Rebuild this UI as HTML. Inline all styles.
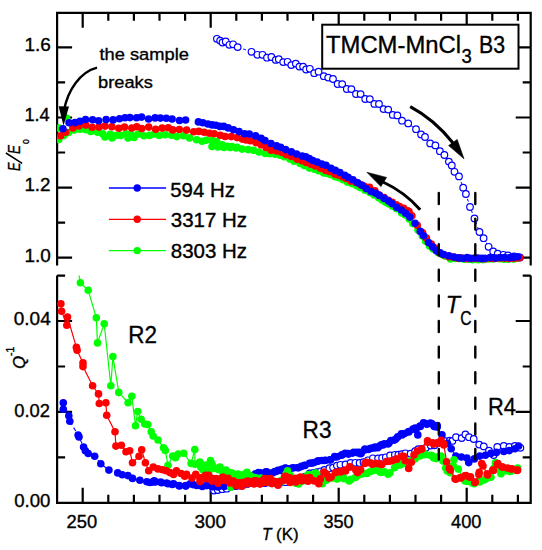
<!DOCTYPE html><html><head><meta charset="utf-8"><style>html,body{margin:0;padding:0;background:#fff;width:542px;height:550px;overflow:hidden}svg{display:block}text{font-family:"Liberation Sans",sans-serif;fill:#000;stroke:#000;stroke-width:0.35px}</style></head><body>
<svg width="542" height="550" viewBox="0 0 542 550">
<defs><clipPath id="c1"><rect x="57.1" y="12.8" width="473.6" height="252.8"/></clipPath><clipPath id="c2"><rect x="57.1" y="275.4" width="473.6" height="227.40000000000003"/></clipPath></defs>
<rect width="542" height="550" fill="#fff"/>
<path d="M57.1,265.6 V11.7 M56.0,12.8 H531.8 M530.7,11.7 V265.6 M57.1,275.4 V503.9 M56.0,502.8 H531.8 M530.7,275.4 V503.9 M82.7,12.8 v15.0 M82.7,502.8 v-15.0 M108.3,12.8 v8.0 M108.3,502.8 v-8.0 M133.9,12.8 v8.0 M133.9,502.8 v-8.0 M159.5,12.8 v8.0 M159.5,502.8 v-8.0 M185.1,12.8 v8.0 M185.1,502.8 v-8.0 M210.7,12.8 v15.0 M210.7,502.8 v-15.0 M236.3,12.8 v8.0 M236.3,502.8 v-8.0 M261.9,12.8 v8.0 M261.9,502.8 v-8.0 M287.5,12.8 v8.0 M287.5,502.8 v-8.0 M313.1,12.8 v8.0 M313.1,502.8 v-8.0 M338.7,12.8 v15.0 M338.7,502.8 v-15.0 M364.3,12.8 v8.0 M364.3,502.8 v-8.0 M389.9,12.8 v8.0 M389.9,502.8 v-8.0 M415.5,12.8 v8.0 M415.5,502.8 v-8.0 M441.1,12.8 v8.0 M441.1,502.8 v-8.0 M466.7,12.8 v15.0 M466.7,502.8 v-15.0 M492.3,12.8 v8.0 M492.3,502.8 v-8.0 M517.9,12.8 v8.0 M517.9,502.8 v-8.0 M57.1,222.6 h8.0 M530.7,222.6 h-8.0 M57.1,187.6 h15.0 M530.7,187.6 h-15.0 M57.1,152.5 h8.0 M530.7,152.5 h-8.0 M57.1,117.5 h15.0 M530.7,117.5 h-15.0 M57.1,82.4 h8.0 M530.7,82.4 h-8.0 M57.1,47.4 h15.0 M530.7,47.4 h-15.0 M57.1,257.7 h15.0 M530.7,257.7 h-15.0 M57.1,457.4 h8.0 M530.7,457.4 h-8.0 M57.1,411.9 h15.0 M530.7,411.9 h-15.0 M57.1,366.5 h8.0 M530.7,366.5 h-8.0 M57.1,321.0 h15.0 M530.7,321.0 h-15.0 M57.1,275.6 h8.0 M530.7,275.6 h-8.0" fill="none" stroke="#000" stroke-width="2.2"/>
<polyline points="216.9,38.8 220.1,40.6 222.5,42.5 225.7,41.5 229.4,44.8 233.1,44.3 237.7,47.1 251.5,51.8 257.4,54.8 262.5,54.8 267.0,57.7 271.4,57.0 275.8,59.9 278.8,59.2 283.2,62.1 287.6,61.8 291.3,65.1 295.8,63.6 299.4,66.6 303.1,66.6 306.1,69.5 309.8,68.8 314.2,73.2 318.6,71.7 323.8,76.2 328.2,77.6 333.0,79.0 337.6,84.0 342.2,84.1 346.8,89.0 351.4,89.1 356.0,94.0 360.6,94.1 365.2,99.0 369.8,99.1 374.4,103.9 379.0,104.0 383.6,109.1 388.2,109.6 392.8,114.9 397.4,115.4 402.0,120.7 408.2,123.4 416.0,129.2 421.1,134.4 425.0,137.0 430.2,143.4 435.4,145.4 439.9,151.2 444.4,155.0 448.9,161.6 451.8,165.5 454.5,171.8 459.0,176.4 463.2,187.7 465.9,194.0 470.0,207.0 474.5,218.4 479.5,232.0 483.6,238.2 488.6,246.8 493.2,251.4 497.7,253.6 503.4,254.8 508.0,255.5 514.0,256.5 520.0,257.5" fill="none" stroke="#0000ff" stroke-width="1.0" stroke-dasharray="3 3" clip-path="url(#c1)"/>
<g fill="#fff" stroke="#0000ff" stroke-width="1.2" clip-path="url(#c1)">
<circle cx="216.9" cy="38.8" r="3.3"/>
<circle cx="220.1" cy="40.6" r="3.3"/>
<circle cx="222.5" cy="42.5" r="3.3"/>
<circle cx="225.7" cy="41.5" r="3.3"/>
<circle cx="229.4" cy="44.8" r="3.3"/>
<circle cx="233.1" cy="44.3" r="3.3"/>
<circle cx="237.7" cy="47.1" r="3.3"/>
<circle cx="251.5" cy="51.8" r="3.3"/>
<circle cx="257.4" cy="54.8" r="3.3"/>
<circle cx="262.5" cy="54.8" r="3.3"/>
<circle cx="267.0" cy="57.7" r="3.3"/>
<circle cx="271.4" cy="57.0" r="3.3"/>
<circle cx="275.8" cy="59.9" r="3.3"/>
<circle cx="278.8" cy="59.2" r="3.3"/>
<circle cx="283.2" cy="62.1" r="3.3"/>
<circle cx="287.6" cy="61.8" r="3.3"/>
<circle cx="291.3" cy="65.1" r="3.3"/>
<circle cx="295.8" cy="63.6" r="3.3"/>
<circle cx="299.4" cy="66.6" r="3.3"/>
<circle cx="303.1" cy="66.6" r="3.3"/>
<circle cx="306.1" cy="69.5" r="3.3"/>
<circle cx="309.8" cy="68.8" r="3.3"/>
<circle cx="314.2" cy="73.2" r="3.3"/>
<circle cx="318.6" cy="71.7" r="3.3"/>
<circle cx="323.8" cy="76.2" r="3.3"/>
<circle cx="328.2" cy="77.6" r="3.3"/>
<circle cx="333.0" cy="79.0" r="3.3"/>
<circle cx="337.6" cy="84.0" r="3.3"/>
<circle cx="342.2" cy="84.1" r="3.3"/>
<circle cx="346.8" cy="89.0" r="3.3"/>
<circle cx="351.4" cy="89.1" r="3.3"/>
<circle cx="356.0" cy="94.0" r="3.3"/>
<circle cx="360.6" cy="94.1" r="3.3"/>
<circle cx="365.2" cy="99.0" r="3.3"/>
<circle cx="369.8" cy="99.1" r="3.3"/>
<circle cx="374.4" cy="103.9" r="3.3"/>
<circle cx="379.0" cy="104.0" r="3.3"/>
<circle cx="383.6" cy="109.1" r="3.3"/>
<circle cx="388.2" cy="109.6" r="3.3"/>
<circle cx="392.8" cy="114.9" r="3.3"/>
<circle cx="397.4" cy="115.4" r="3.3"/>
<circle cx="402.0" cy="120.7" r="3.3"/>
<circle cx="408.2" cy="123.4" r="3.3"/>
<circle cx="416.0" cy="129.2" r="3.3"/>
<circle cx="421.1" cy="134.4" r="3.3"/>
<circle cx="425.0" cy="137.0" r="3.3"/>
<circle cx="430.2" cy="143.4" r="3.3"/>
<circle cx="435.4" cy="145.4" r="3.3"/>
<circle cx="439.9" cy="151.2" r="3.3"/>
<circle cx="444.4" cy="155.0" r="3.3"/>
<circle cx="448.9" cy="161.6" r="3.3"/>
<circle cx="451.8" cy="165.5" r="3.3"/>
<circle cx="454.5" cy="171.8" r="3.3"/>
<circle cx="459.0" cy="176.4" r="3.3"/>
<circle cx="463.2" cy="187.7" r="3.3"/>
<circle cx="465.9" cy="194.0" r="3.3"/>
<circle cx="470.0" cy="207.0" r="3.3"/>
<circle cx="474.5" cy="218.4" r="3.3"/>
<circle cx="479.5" cy="232.0" r="3.3"/>
<circle cx="483.6" cy="238.2" r="3.3"/>
<circle cx="488.6" cy="246.8" r="3.3"/>
<circle cx="493.2" cy="251.4" r="3.3"/>
<circle cx="497.7" cy="253.6" r="3.3"/>
<circle cx="503.4" cy="254.8" r="3.3"/>
<circle cx="508.0" cy="255.5" r="3.3"/>
<circle cx="514.0" cy="256.5" r="3.3"/>
<circle cx="520.0" cy="257.5" r="3.3"/>
</g>
<g fill="#00ff00" clip-path="url(#c1)">
<circle cx="58.8" cy="139.5" r="3.8"/>
<circle cx="63.8" cy="135.6" r="3.8"/>
<circle cx="68.5" cy="132.5" r="3.8"/>
<circle cx="74.1" cy="130.1" r="3.8"/>
<circle cx="80.1" cy="129.3" r="3.8"/>
<circle cx="85.9" cy="129.7" r="3.8"/>
<circle cx="90.7" cy="131.4" r="3.8"/>
<circle cx="97.6" cy="132.2" r="3.8"/>
<circle cx="102.8" cy="133.9" r="3.8"/>
<circle cx="110.2" cy="134.2" r="3.8"/>
<circle cx="115.8" cy="135.5" r="3.8"/>
<circle cx="120.5" cy="135.4" r="3.8"/>
<circle cx="125.9" cy="133.7" r="3.8"/>
<circle cx="130.7" cy="134.4" r="3.8"/>
<circle cx="137.7" cy="134.3" r="3.8"/>
<circle cx="143.9" cy="135.7" r="3.8"/>
<circle cx="149.5" cy="135.4" r="3.8"/>
<circle cx="154.2" cy="134.0" r="3.8"/>
<circle cx="159.3" cy="135.5" r="3.8"/>
<circle cx="165.1" cy="134.7" r="3.8"/>
<circle cx="171.4" cy="135.3" r="3.8"/>
<circle cx="176.8" cy="136.6" r="3.8"/>
<circle cx="183.4" cy="135.8" r="3.8"/>
<circle cx="189.6" cy="137.9" r="3.8"/>
<circle cx="196.7" cy="139.8" r="3.8"/>
<circle cx="202.1" cy="141.2" r="3.8"/>
<circle cx="206.1" cy="140.3" r="3.8"/>
<circle cx="211.8" cy="140.5" r="3.8"/>
<circle cx="216.7" cy="141.5" r="3.8"/>
<circle cx="222.2" cy="144.7" r="3.8"/>
<circle cx="227.3" cy="146.2" r="3.8"/>
<circle cx="231.9" cy="146.5" r="3.8"/>
<circle cx="237.1" cy="147.2" r="3.8"/>
<circle cx="242.0" cy="149.1" r="3.8"/>
<circle cx="248.1" cy="149.6" r="3.8"/>
<circle cx="253.5" cy="150.3" r="3.8"/>
<circle cx="259.0" cy="152.0" r="3.8"/>
<circle cx="265.3" cy="153.4" r="3.8"/>
<circle cx="269.7" cy="153.8" r="3.8"/>
<circle cx="275.1" cy="154.3" r="3.8"/>
<circle cx="280.0" cy="155.2" r="3.8"/>
<circle cx="284.1" cy="156.7" r="3.8"/>
<circle cx="289.8" cy="159.1" r="3.8"/>
<circle cx="294.1" cy="161.2" r="3.8"/>
<circle cx="300.1" cy="163.4" r="3.8"/>
<circle cx="304.2" cy="165.6" r="3.8"/>
<circle cx="309.4" cy="168.1" r="3.8"/>
<circle cx="314.5" cy="169.2" r="3.8"/>
<circle cx="318.6" cy="170.7" r="3.8"/>
<circle cx="323.7" cy="173.0" r="3.8"/>
<circle cx="327.2" cy="173.4" r="3.8"/>
<circle cx="331.0" cy="174.7" r="3.8"/>
<circle cx="335.2" cy="176.8" r="3.8"/>
<circle cx="339.0" cy="177.8" r="3.8"/>
<circle cx="343.2" cy="179.8" r="3.8"/>
<circle cx="347.6" cy="182.2" r="3.8"/>
<circle cx="352.3" cy="183.7" r="3.8"/>
<circle cx="356.9" cy="185.7" r="3.8"/>
<circle cx="360.2" cy="187.6" r="3.8"/>
<circle cx="365.1" cy="190.3" r="3.8"/>
<circle cx="370.0" cy="192.6" r="3.8"/>
<circle cx="374.1" cy="194.9" r="3.8"/>
<circle cx="378.7" cy="197.7" r="3.8"/>
<circle cx="382.1" cy="199.9" r="3.8"/>
<circle cx="385.7" cy="202.2" r="3.8"/>
<circle cx="389.0" cy="203.9" r="3.8"/>
<circle cx="392.5" cy="206.2" r="3.8"/>
<circle cx="396.6" cy="208.8" r="3.8"/>
<circle cx="401.7" cy="212.9" r="3.8"/>
<circle cx="405.2" cy="215.0" r="3.8"/>
<circle cx="409.2" cy="219.0" r="3.8"/>
<circle cx="412.7" cy="223.6" r="3.8"/>
<circle cx="418.0" cy="230.0" r="3.8"/>
<circle cx="422.3" cy="236.0" r="3.8"/>
<circle cx="425.7" cy="241.2" r="3.8"/>
<circle cx="429.5" cy="245.9" r="3.8"/>
<circle cx="433.1" cy="249.0" r="3.8"/>
<circle cx="438.4" cy="252.7" r="3.8"/>
<circle cx="441.9" cy="254.5" r="3.8"/>
<circle cx="445.2" cy="256.1" r="3.8"/>
<circle cx="450.5" cy="258.9" r="3.8"/>
<circle cx="455.2" cy="258.5" r="3.8"/>
<circle cx="459.3" cy="258.6" r="3.8"/>
<circle cx="464.1" cy="259.2" r="3.8"/>
<circle cx="469.0" cy="259.3" r="3.8"/>
<circle cx="472.7" cy="259.8" r="3.8"/>
<circle cx="478.1" cy="259.7" r="3.8"/>
<circle cx="483.0" cy="259.6" r="3.8"/>
<circle cx="487.9" cy="258.9" r="3.8"/>
<circle cx="492.2" cy="258.9" r="3.8"/>
<circle cx="495.5" cy="258.5" r="3.8"/>
<circle cx="499.3" cy="258.7" r="3.8"/>
<circle cx="504.0" cy="259.3" r="3.8"/>
<circle cx="508.2" cy="259.2" r="3.8"/>
<circle cx="513.6" cy="259.1" r="3.8"/>
<circle cx="517.6" cy="258.3" r="3.8"/>
<circle cx="59.0" cy="128.0" r="3.8"/>
<circle cx="66.5" cy="118.0" r="3.8"/>
<circle cx="212.0" cy="146.5" r="3.8"/>
<circle cx="218.0" cy="147.0" r="3.8"/>
<circle cx="224.0" cy="147.5" r="3.8"/>
<circle cx="230.0" cy="147.5" r="3.8"/>
<circle cx="236.0" cy="148.0" r="3.8"/>
<circle cx="105.0" cy="137.0" r="3.8"/>
<circle cx="112.0" cy="138.0" r="3.8"/>
<circle cx="128.0" cy="138.0" r="3.8"/>
<circle cx="134.0" cy="137.5" r="3.8"/>
</g>
<g fill="#ff0000" clip-path="url(#c1)">
<circle cx="60.6" cy="135.7" r="3.8"/>
<circle cx="65.7" cy="132.3" r="3.8"/>
<circle cx="72.9" cy="127.9" r="3.8"/>
<circle cx="78.9" cy="126.0" r="3.8"/>
<circle cx="85.8" cy="125.1" r="3.8"/>
<circle cx="92.2" cy="127.2" r="3.8"/>
<circle cx="99.1" cy="127.1" r="3.8"/>
<circle cx="105.0" cy="126.1" r="3.8"/>
<circle cx="111.9" cy="126.7" r="3.8"/>
<circle cx="118.8" cy="128.2" r="3.8"/>
<circle cx="124.5" cy="127.1" r="3.8"/>
<circle cx="131.8" cy="128.0" r="3.8"/>
<circle cx="136.8" cy="126.7" r="3.8"/>
<circle cx="141.8" cy="128.6" r="3.8"/>
<circle cx="148.7" cy="127.1" r="3.8"/>
<circle cx="155.7" cy="129.2" r="3.8"/>
<circle cx="162.1" cy="128.1" r="3.8"/>
<circle cx="168.3" cy="127.8" r="3.8"/>
<circle cx="172.8" cy="129.9" r="3.8"/>
<circle cx="179.3" cy="129.5" r="3.8"/>
<circle cx="186.6" cy="130.1" r="3.8"/>
<circle cx="193.7" cy="131.8" r="3.8"/>
<circle cx="198.8" cy="131.4" r="3.8"/>
<circle cx="204.2" cy="132.3" r="3.8"/>
<circle cx="209.4" cy="133.2" r="3.8"/>
<circle cx="214.2" cy="133.7" r="3.8"/>
<circle cx="220.3" cy="135.2" r="3.8"/>
<circle cx="225.1" cy="136.5" r="3.8"/>
<circle cx="231.2" cy="136.6" r="3.8"/>
<circle cx="237.2" cy="137.6" r="3.8"/>
<circle cx="242.3" cy="139.1" r="3.8"/>
<circle cx="246.1" cy="140.0" r="3.8"/>
<circle cx="250.3" cy="140.8" r="3.8"/>
<circle cx="256.0" cy="142.6" r="3.8"/>
<circle cx="261.0" cy="144.8" r="3.8"/>
<circle cx="266.1" cy="147.5" r="3.8"/>
<circle cx="271.2" cy="150.3" r="3.8"/>
<circle cx="276.9" cy="151.0" r="3.8"/>
<circle cx="282.0" cy="152.5" r="3.8"/>
<circle cx="286.5" cy="154.7" r="3.8"/>
<circle cx="291.5" cy="156.5" r="3.8"/>
<circle cx="297.1" cy="159.1" r="3.8"/>
<circle cx="302.0" cy="160.8" r="3.8"/>
<circle cx="306.3" cy="162.5" r="3.8"/>
<circle cx="311.0" cy="164.3" r="3.8"/>
<circle cx="315.4" cy="166.0" r="3.8"/>
<circle cx="320.6" cy="168.2" r="3.8"/>
<circle cx="325.7" cy="170.4" r="3.8"/>
<circle cx="329.5" cy="171.5" r="3.8"/>
<circle cx="334.8" cy="174.1" r="3.8"/>
<circle cx="338.3" cy="174.9" r="3.8"/>
<circle cx="342.5" cy="176.7" r="3.8"/>
<circle cx="346.2" cy="178.4" r="3.8"/>
<circle cx="350.9" cy="181.1" r="3.8"/>
<circle cx="356.0" cy="182.4" r="3.8"/>
<circle cx="360.8" cy="184.7" r="3.8"/>
<circle cx="364.3" cy="186.2" r="3.8"/>
<circle cx="369.6" cy="187.4" r="3.8"/>
<circle cx="374.9" cy="190.8" r="3.8"/>
<circle cx="379.2" cy="195.0" r="3.8"/>
<circle cx="384.2" cy="197.5" r="3.8"/>
<circle cx="388.3" cy="200.3" r="3.8"/>
<circle cx="392.3" cy="202.2" r="3.8"/>
<circle cx="396.2" cy="204.9" r="3.8"/>
<circle cx="399.5" cy="206.5" r="3.8"/>
<circle cx="403.7" cy="208.2" r="3.8"/>
<circle cx="407.6" cy="210.9" r="3.8"/>
<circle cx="411.9" cy="215.8" r="3.8"/>
<circle cx="417.3" cy="225.2" r="3.8"/>
<circle cx="422.6" cy="232.8" r="3.8"/>
<circle cx="426.4" cy="238.1" r="3.8"/>
<circle cx="431.3" cy="244.1" r="3.8"/>
<circle cx="434.8" cy="248.1" r="3.8"/>
<circle cx="440.0" cy="253.0" r="3.8"/>
<circle cx="443.7" cy="254.7" r="3.8"/>
<circle cx="448.9" cy="256.7" r="3.8"/>
<circle cx="453.7" cy="257.0" r="3.8"/>
<circle cx="457.0" cy="257.9" r="3.8"/>
<circle cx="461.2" cy="257.7" r="3.8"/>
<circle cx="466.4" cy="258.8" r="3.8"/>
<circle cx="471.3" cy="258.6" r="3.8"/>
<circle cx="476.4" cy="258.4" r="3.8"/>
<circle cx="481.5" cy="258.7" r="3.8"/>
<circle cx="485.4" cy="258.7" r="3.8"/>
<circle cx="490.7" cy="258.3" r="3.8"/>
<circle cx="494.2" cy="258.5" r="3.8"/>
<circle cx="497.9" cy="258.0" r="3.8"/>
<circle cx="501.5" cy="257.9" r="3.8"/>
<circle cx="505.1" cy="258.1" r="3.8"/>
<circle cx="509.0" cy="258.5" r="3.8"/>
<circle cx="512.9" cy="258.1" r="3.8"/>
<circle cx="516.5" cy="257.9" r="3.8"/>
<circle cx="519.7" cy="257.8" r="3.8"/>
<circle cx="409.0" cy="211.5" r="3.8"/>
</g>
<g fill="#0000ff" clip-path="url(#c1)">
<circle cx="62.9" cy="128.7" r="3.8"/>
<circle cx="69.1" cy="122.7" r="3.8"/>
<circle cx="75.0" cy="122.6" r="3.8"/>
<circle cx="79.8" cy="121.3" r="3.8"/>
<circle cx="85.6" cy="119.5" r="3.8"/>
<circle cx="92.6" cy="119.7" r="3.8"/>
<circle cx="98.6" cy="120.7" r="3.8"/>
<circle cx="106.1" cy="119.5" r="3.8"/>
<circle cx="113.1" cy="119.9" r="3.8"/>
<circle cx="119.5" cy="118.8" r="3.8"/>
<circle cx="125.0" cy="117.8" r="3.8"/>
<circle cx="129.9" cy="117.6" r="3.8"/>
<circle cx="136.6" cy="117.7" r="3.8"/>
<circle cx="141.6" cy="117.1" r="3.8"/>
<circle cx="148.6" cy="119.0" r="3.8"/>
<circle cx="155.1" cy="117.9" r="3.8"/>
<circle cx="160.4" cy="118.1" r="3.8"/>
<circle cx="166.3" cy="118.3" r="3.8"/>
<circle cx="172.1" cy="119.0" r="3.8"/>
<circle cx="179.5" cy="120.5" r="3.8"/>
<circle cx="185.6" cy="120.0" r="3.8"/>
<circle cx="198.4" cy="121.9" r="3.8"/>
<circle cx="202.9" cy="122.7" r="3.8"/>
<circle cx="207.9" cy="124.0" r="3.8"/>
<circle cx="212.1" cy="124.9" r="3.8"/>
<circle cx="215.9" cy="125.2" r="3.8"/>
<circle cx="219.9" cy="126.4" r="3.8"/>
<circle cx="223.7" cy="126.4" r="3.8"/>
<circle cx="228.2" cy="127.9" r="3.8"/>
<circle cx="233.5" cy="129.7" r="3.8"/>
<circle cx="239.1" cy="131.6" r="3.8"/>
<circle cx="244.6" cy="133.8" r="3.8"/>
<circle cx="249.3" cy="134.0" r="3.8"/>
<circle cx="255.6" cy="135.9" r="3.8"/>
<circle cx="261.1" cy="138.3" r="3.8"/>
<circle cx="265.0" cy="140.6" r="3.8"/>
<circle cx="271.0" cy="143.5" r="3.8"/>
<circle cx="276.5" cy="145.9" r="3.8"/>
<circle cx="280.6" cy="147.3" r="3.8"/>
<circle cx="285.6" cy="149.6" r="3.8"/>
<circle cx="291.4" cy="151.9" r="3.8"/>
<circle cx="296.6" cy="154.0" r="3.8"/>
<circle cx="302.1" cy="156.0" r="3.8"/>
<circle cx="305.8" cy="156.8" r="3.8"/>
<circle cx="309.3" cy="158.6" r="3.8"/>
<circle cx="312.8" cy="160.5" r="3.8"/>
<circle cx="317.2" cy="162.1" r="3.8"/>
<circle cx="321.8" cy="164.1" r="3.8"/>
<circle cx="326.0" cy="165.2" r="3.8"/>
<circle cx="331.0" cy="168.2" r="3.8"/>
<circle cx="335.3" cy="170.4" r="3.8"/>
<circle cx="339.9" cy="172.5" r="3.8"/>
<circle cx="344.7" cy="175.3" r="3.8"/>
<circle cx="348.1" cy="177.2" r="3.8"/>
<circle cx="352.9" cy="179.7" r="3.8"/>
<circle cx="357.7" cy="182.8" r="3.8"/>
<circle cx="362.0" cy="185.3" r="3.8"/>
<circle cx="366.3" cy="188.6" r="3.8"/>
<circle cx="371.1" cy="191.5" r="3.8"/>
<circle cx="375.7" cy="193.3" r="3.8"/>
<circle cx="379.3" cy="195.4" r="3.8"/>
<circle cx="384.1" cy="198.4" r="3.8"/>
<circle cx="388.6" cy="201.1" r="3.8"/>
<circle cx="391.9" cy="203.6" r="3.8"/>
<circle cx="396.6" cy="207.2" r="3.8"/>
<circle cx="401.3" cy="210.0" r="3.8"/>
<circle cx="405.6" cy="213.2" r="3.8"/>
<circle cx="409.8" cy="217.1" r="3.8"/>
<circle cx="415.0" cy="223.3" r="3.8"/>
<circle cx="420.3" cy="231.4" r="3.8"/>
<circle cx="423.6" cy="235.8" r="3.8"/>
<circle cx="428.5" cy="242.6" r="3.8"/>
<circle cx="432.7" cy="246.9" r="3.8"/>
<circle cx="436.4" cy="250.7" r="3.8"/>
<circle cx="440.1" cy="252.8" r="3.8"/>
<circle cx="443.6" cy="254.5" r="3.8"/>
<circle cx="448.9" cy="255.8" r="3.8"/>
<circle cx="453.9" cy="257.0" r="3.8"/>
<circle cx="459.0" cy="257.9" r="3.8"/>
<circle cx="462.7" cy="258.3" r="3.8"/>
<circle cx="467.0" cy="257.6" r="3.8"/>
<circle cx="470.2" cy="258.2" r="3.8"/>
<circle cx="474.4" cy="258.0" r="3.8"/>
<circle cx="478.0" cy="258.0" r="3.8"/>
<circle cx="481.9" cy="258.4" r="3.8"/>
<circle cx="485.1" cy="258.3" r="3.8"/>
<circle cx="490.1" cy="257.6" r="3.8"/>
<circle cx="495.3" cy="258.1" r="3.8"/>
<circle cx="500.5" cy="257.5" r="3.8"/>
<circle cx="504.5" cy="257.5" r="3.8"/>
<circle cx="509.9" cy="257.6" r="3.8"/>
<circle cx="513.9" cy="257.3" r="3.8"/>
<circle cx="517.7" cy="256.7" r="3.8"/>
</g>
<polyline points="214.0,490.6 217.8,490.0 222.2,489.2 226.7,488.7 230.8,486.7 235.2,486.2 238.9,485.7 243.7,484.4 247.2,483.9 250.6,482.9 254.6,482.6 258.7,483.1 261.9,483.1 265.2,483.1 270.0,482.5 273.3,482.3 277.2,482.9 280.7,482.6 285.9,482.2 290.8,480.3 296.0,479.3 301.1,478.3 304.6,476.8 309.7,473.5 313.6,472.8 317.1,472.2 320.8,471.3 324.3,469.9 329.4,468.2 333.1,467.6 336.9,465.6 340.4,464.8 345.5,464.5 350.6,463.0 355.4,462.8 359.6,463.0 363.5,462.2 367.9,460.3 372.9,458.3 378.1,458.4 382.1,458.0 385.8,457.3 390.1,455.4 394.9,454.8 398.4,454.7 401.7,454.2 405.4,453.3 410.6,453.7 415.1,451.1 418.3,449.2 421.7,449.0 425.8,447.8 430.8,445.6 434.5,445.3 437.6,443.2 441.5,442.1 445.4,441.2 449.8,440.6 452.4,440.9 456.0,437.2 461.7,438.1 465.4,434.4 469.0,437.2 473.7,439.0 479.2,444.6 483.8,446.4 489.0,450.6 493.7,455.0 497.3,447.0 503.8,446.0 509.3,446.9 514.9,446.0 520.4,447.8" fill="none" stroke="#0000ff" stroke-width="1.0" stroke-dasharray="3 3" clip-path="url(#c2)"/>
<g fill="#fff" stroke="#0000ff" stroke-width="1.2" clip-path="url(#c2)">
<circle cx="214.0" cy="490.6" r="3.3"/>
<circle cx="217.8" cy="490.0" r="3.3"/>
<circle cx="222.2" cy="489.2" r="3.3"/>
<circle cx="226.7" cy="488.7" r="3.3"/>
<circle cx="230.8" cy="486.7" r="3.3"/>
<circle cx="235.2" cy="486.2" r="3.3"/>
<circle cx="238.9" cy="485.7" r="3.3"/>
<circle cx="243.7" cy="484.4" r="3.3"/>
<circle cx="247.2" cy="483.9" r="3.3"/>
<circle cx="250.6" cy="482.9" r="3.3"/>
<circle cx="254.6" cy="482.6" r="3.3"/>
<circle cx="258.7" cy="483.1" r="3.3"/>
<circle cx="261.9" cy="483.1" r="3.3"/>
<circle cx="265.2" cy="483.1" r="3.3"/>
<circle cx="270.0" cy="482.5" r="3.3"/>
<circle cx="273.3" cy="482.3" r="3.3"/>
<circle cx="277.2" cy="482.9" r="3.3"/>
<circle cx="280.7" cy="482.6" r="3.3"/>
<circle cx="285.9" cy="482.2" r="3.3"/>
<circle cx="290.8" cy="480.3" r="3.3"/>
<circle cx="296.0" cy="479.3" r="3.3"/>
<circle cx="301.1" cy="478.3" r="3.3"/>
<circle cx="304.6" cy="476.8" r="3.3"/>
<circle cx="309.7" cy="473.5" r="3.3"/>
<circle cx="313.6" cy="472.8" r="3.3"/>
<circle cx="317.1" cy="472.2" r="3.3"/>
<circle cx="320.8" cy="471.3" r="3.3"/>
<circle cx="324.3" cy="469.9" r="3.3"/>
<circle cx="329.4" cy="468.2" r="3.3"/>
<circle cx="333.1" cy="467.6" r="3.3"/>
<circle cx="336.9" cy="465.6" r="3.3"/>
<circle cx="340.4" cy="464.8" r="3.3"/>
<circle cx="345.5" cy="464.5" r="3.3"/>
<circle cx="350.6" cy="463.0" r="3.3"/>
<circle cx="355.4" cy="462.8" r="3.3"/>
<circle cx="359.6" cy="463.0" r="3.3"/>
<circle cx="363.5" cy="462.2" r="3.3"/>
<circle cx="367.9" cy="460.3" r="3.3"/>
<circle cx="372.9" cy="458.3" r="3.3"/>
<circle cx="378.1" cy="458.4" r="3.3"/>
<circle cx="382.1" cy="458.0" r="3.3"/>
<circle cx="385.8" cy="457.3" r="3.3"/>
<circle cx="390.1" cy="455.4" r="3.3"/>
<circle cx="394.9" cy="454.8" r="3.3"/>
<circle cx="398.4" cy="454.7" r="3.3"/>
<circle cx="401.7" cy="454.2" r="3.3"/>
<circle cx="405.4" cy="453.3" r="3.3"/>
<circle cx="410.6" cy="453.7" r="3.3"/>
<circle cx="415.1" cy="451.1" r="3.3"/>
<circle cx="418.3" cy="449.2" r="3.3"/>
<circle cx="421.7" cy="449.0" r="3.3"/>
<circle cx="425.8" cy="447.8" r="3.3"/>
<circle cx="430.8" cy="445.6" r="3.3"/>
<circle cx="434.5" cy="445.3" r="3.3"/>
<circle cx="437.6" cy="443.2" r="3.3"/>
<circle cx="441.5" cy="442.1" r="3.3"/>
<circle cx="445.4" cy="441.2" r="3.3"/>
<circle cx="449.8" cy="440.6" r="3.3"/>
<circle cx="452.4" cy="440.9" r="3.3"/>
<circle cx="456.0" cy="437.2" r="3.3"/>
<circle cx="461.7" cy="438.1" r="3.3"/>
<circle cx="465.4" cy="434.4" r="3.3"/>
<circle cx="469.0" cy="437.2" r="3.3"/>
<circle cx="473.7" cy="439.0" r="3.3"/>
<circle cx="479.2" cy="444.6" r="3.3"/>
<circle cx="483.8" cy="446.4" r="3.3"/>
<circle cx="489.0" cy="450.6" r="3.3"/>
<circle cx="493.7" cy="455.0" r="3.3"/>
<circle cx="497.3" cy="447.0" r="3.3"/>
<circle cx="503.8" cy="446.0" r="3.3"/>
<circle cx="509.3" cy="446.9" r="3.3"/>
<circle cx="514.9" cy="446.0" r="3.3"/>
<circle cx="520.4" cy="447.8" r="3.3"/>
</g>
<polyline points="63.3,402.8 63.3,409.2 68.8,415.7 69.8,421.2 78.1,435.0 79.0,436.9 83.6,447.0 85.4,450.7 88.2,453.5 94.7,456.3 100.8,463.7 108.9,470.1 117.7,472.9 122.3,474.7 127.9,475.6 132.5,478.4 139.9,480.3 146.8,481.8 150.0,482.5 152.8,482.0 154.2,480.9 155.4,481.9 160.6,482.1 161.6,482.7 166.6,483.0 168.0,483.7 172.3,484.4 173.6,483.7 179.1,485.5 179.4,486.0 185.6,485.5 185.8,486.1 190.2,483.7 193.1,484.6 196.7,485.5 199.8,485.3 202.2,486.4 206.5,485.5 206.8,485.5 212.0,486.5 213.2,486.8 218.0,487.0 218.6,486.2 224.0,486.5 225.9,485.6 230.0,485.5 231.8,485.0 236.0,484.5 237.2,484.5 242.0,482.5 244.6,480.3 247.0,479.0 251.1,476.0 251.5,476.0 255.2,474.0 256.0,473.8 258.5,472.6 260.0,472.8 261.9,473.2 265.9,471.7 267.0,472.0 270.8,473.3 272.9,472.8 274.7,471.5 276.0,471.5 278.0,470.4 280.4,470.5 281.7,469.3 285.2,468.1 285.8,468.2 289.3,468.7 292.0,468.0 293.8,467.8 297.7,467.7 298.7,467.6 301.4,466.4 304.5,465.3 305.0,465.5 309.5,463.3 311.7,463.1 313.5,462.8 316.9,461.5 318.2,460.9 321.8,460.5 324.6,460.5 325.6,460.3 330.0,459.7 330.5,460.0 334.6,456.5 335.4,456.9 337.3,456.7 341.5,455.1 342.0,455.0 345.1,453.4 348.0,453.5 348.5,454.1 352.5,453.1 353.8,452.3 356.9,452.3 357.5,452.8 359.7,452.2 360.5,453.8 361.2,453.2 364.8,449.9 364.9,449.0 368.5,449.5 370.0,448.5 372.0,448.1 374.6,448.0 375.0,447.0 377.7,447.8 379.6,446.0 381.4,444.8 382.9,445.0 384.3,443.8 388.0,444.0 389.0,443.0 390.8,440.5 394.4,440.1 395.8,439.0 397.7,436.9 401.4,433.8 402.0,435.0 404.5,433.6 408.7,431.5 408.8,431.9 413.0,429.1 415.2,428.0 416.0,429.4 417.8,434.9 420.0,426.0 420.3,426.5 423.5,422.9 425.5,423.5 427.0,424.2 430.4,423.0 432.0,423.9 434.2,426.6 437.2,425.6 437.2,427.1 442.0,434.9 447.5,443.2 451.2,448.7 455.8,456.1 461.4,457.0 466.9,458.0 468.7,462.6 474.3,458.9 479.8,456.1 485.4,455.2 490.9,453.4 496.4,452.4 503.8,451.5 509.3,450.6 514.9,448.7 518.6,446.0" fill="none" stroke="#0000ff" stroke-width="1.1" stroke-dasharray="4 3" clip-path="url(#c2)"/>
<g fill="#0000ff" clip-path="url(#c2)">
<circle cx="63.3" cy="402.8" r="3.8"/>
<circle cx="63.3" cy="409.2" r="3.8"/>
<circle cx="68.8" cy="415.7" r="3.8"/>
<circle cx="69.8" cy="421.2" r="3.8"/>
<circle cx="78.1" cy="435.0" r="3.8"/>
<circle cx="79.0" cy="436.9" r="3.8"/>
<circle cx="83.6" cy="447.0" r="3.8"/>
<circle cx="85.4" cy="450.7" r="3.8"/>
<circle cx="88.2" cy="453.5" r="3.8"/>
<circle cx="94.7" cy="456.3" r="3.8"/>
<circle cx="100.8" cy="463.7" r="3.8"/>
<circle cx="108.9" cy="470.1" r="3.8"/>
<circle cx="117.7" cy="472.9" r="3.8"/>
<circle cx="122.3" cy="474.7" r="3.8"/>
<circle cx="127.9" cy="475.6" r="3.8"/>
<circle cx="132.5" cy="478.4" r="3.8"/>
<circle cx="139.9" cy="480.3" r="3.8"/>
<circle cx="146.8" cy="481.8" r="3.8"/>
<circle cx="150.0" cy="482.5" r="3.8"/>
<circle cx="152.8" cy="482.0" r="3.8"/>
<circle cx="154.2" cy="480.9" r="3.8"/>
<circle cx="155.4" cy="481.9" r="3.8"/>
<circle cx="160.6" cy="482.1" r="3.8"/>
<circle cx="161.6" cy="482.7" r="3.8"/>
<circle cx="166.6" cy="483.0" r="3.8"/>
<circle cx="168.0" cy="483.7" r="3.8"/>
<circle cx="172.3" cy="484.4" r="3.8"/>
<circle cx="173.6" cy="483.7" r="3.8"/>
<circle cx="179.1" cy="485.5" r="3.8"/>
<circle cx="179.4" cy="486.0" r="3.8"/>
<circle cx="185.6" cy="485.5" r="3.8"/>
<circle cx="185.8" cy="486.1" r="3.8"/>
<circle cx="190.2" cy="483.7" r="3.8"/>
<circle cx="193.1" cy="484.6" r="3.8"/>
<circle cx="196.7" cy="485.5" r="3.8"/>
<circle cx="199.8" cy="485.3" r="3.8"/>
<circle cx="202.2" cy="486.4" r="3.8"/>
<circle cx="206.5" cy="485.5" r="3.8"/>
<circle cx="206.8" cy="485.5" r="3.8"/>
<circle cx="212.0" cy="486.5" r="3.8"/>
<circle cx="213.2" cy="486.8" r="3.8"/>
<circle cx="218.0" cy="487.0" r="3.8"/>
<circle cx="218.6" cy="486.2" r="3.8"/>
<circle cx="224.0" cy="486.5" r="3.8"/>
<circle cx="225.9" cy="485.6" r="3.8"/>
<circle cx="230.0" cy="485.5" r="3.8"/>
<circle cx="231.8" cy="485.0" r="3.8"/>
<circle cx="236.0" cy="484.5" r="3.8"/>
<circle cx="237.2" cy="484.5" r="3.8"/>
<circle cx="242.0" cy="482.5" r="3.8"/>
<circle cx="244.6" cy="480.3" r="3.8"/>
<circle cx="247.0" cy="479.0" r="3.8"/>
<circle cx="251.1" cy="476.0" r="3.8"/>
<circle cx="251.5" cy="476.0" r="3.8"/>
<circle cx="255.2" cy="474.0" r="3.8"/>
<circle cx="256.0" cy="473.8" r="3.8"/>
<circle cx="258.5" cy="472.6" r="3.8"/>
<circle cx="260.0" cy="472.8" r="3.8"/>
<circle cx="261.9" cy="473.2" r="3.8"/>
<circle cx="265.9" cy="471.7" r="3.8"/>
<circle cx="267.0" cy="472.0" r="3.8"/>
<circle cx="270.8" cy="473.3" r="3.8"/>
<circle cx="272.9" cy="472.8" r="3.8"/>
<circle cx="274.7" cy="471.5" r="3.8"/>
<circle cx="276.0" cy="471.5" r="3.8"/>
<circle cx="278.0" cy="470.4" r="3.8"/>
<circle cx="280.4" cy="470.5" r="3.8"/>
<circle cx="281.7" cy="469.3" r="3.8"/>
<circle cx="285.2" cy="468.1" r="3.8"/>
<circle cx="285.8" cy="468.2" r="3.8"/>
<circle cx="289.3" cy="468.7" r="3.8"/>
<circle cx="292.0" cy="468.0" r="3.8"/>
<circle cx="293.8" cy="467.8" r="3.8"/>
<circle cx="297.7" cy="467.7" r="3.8"/>
<circle cx="298.7" cy="467.6" r="3.8"/>
<circle cx="301.4" cy="466.4" r="3.8"/>
<circle cx="304.5" cy="465.3" r="3.8"/>
<circle cx="305.0" cy="465.5" r="3.8"/>
<circle cx="309.5" cy="463.3" r="3.8"/>
<circle cx="311.7" cy="463.1" r="3.8"/>
<circle cx="313.5" cy="462.8" r="3.8"/>
<circle cx="316.9" cy="461.5" r="3.8"/>
<circle cx="318.2" cy="460.9" r="3.8"/>
<circle cx="321.8" cy="460.5" r="3.8"/>
<circle cx="324.6" cy="460.5" r="3.8"/>
<circle cx="325.6" cy="460.3" r="3.8"/>
<circle cx="330.0" cy="459.7" r="3.8"/>
<circle cx="330.5" cy="460.0" r="3.8"/>
<circle cx="334.6" cy="456.5" r="3.8"/>
<circle cx="335.4" cy="456.9" r="3.8"/>
<circle cx="337.3" cy="456.7" r="3.8"/>
<circle cx="341.5" cy="455.1" r="3.8"/>
<circle cx="342.0" cy="455.0" r="3.8"/>
<circle cx="345.1" cy="453.4" r="3.8"/>
<circle cx="348.0" cy="453.5" r="3.8"/>
<circle cx="348.5" cy="454.1" r="3.8"/>
<circle cx="352.5" cy="453.1" r="3.8"/>
<circle cx="353.8" cy="452.3" r="3.8"/>
<circle cx="356.9" cy="452.3" r="3.8"/>
<circle cx="357.5" cy="452.8" r="3.8"/>
<circle cx="359.7" cy="452.2" r="3.8"/>
<circle cx="360.5" cy="453.8" r="3.8"/>
<circle cx="361.2" cy="453.2" r="3.8"/>
<circle cx="364.8" cy="449.9" r="3.8"/>
<circle cx="364.9" cy="449.0" r="3.8"/>
<circle cx="368.5" cy="449.5" r="3.8"/>
<circle cx="370.0" cy="448.5" r="3.8"/>
<circle cx="372.0" cy="448.1" r="3.8"/>
<circle cx="374.6" cy="448.0" r="3.8"/>
<circle cx="375.0" cy="447.0" r="3.8"/>
<circle cx="377.7" cy="447.8" r="3.8"/>
<circle cx="379.6" cy="446.0" r="3.8"/>
<circle cx="381.4" cy="444.8" r="3.8"/>
<circle cx="382.9" cy="445.0" r="3.8"/>
<circle cx="384.3" cy="443.8" r="3.8"/>
<circle cx="388.0" cy="444.0" r="3.8"/>
<circle cx="389.0" cy="443.0" r="3.8"/>
<circle cx="390.8" cy="440.5" r="3.8"/>
<circle cx="394.4" cy="440.1" r="3.8"/>
<circle cx="395.8" cy="439.0" r="3.8"/>
<circle cx="397.7" cy="436.9" r="3.8"/>
<circle cx="401.4" cy="433.8" r="3.8"/>
<circle cx="402.0" cy="435.0" r="3.8"/>
<circle cx="404.5" cy="433.6" r="3.8"/>
<circle cx="408.7" cy="431.5" r="3.8"/>
<circle cx="408.8" cy="431.9" r="3.8"/>
<circle cx="413.0" cy="429.1" r="3.8"/>
<circle cx="415.2" cy="428.0" r="3.8"/>
<circle cx="416.0" cy="429.4" r="3.8"/>
<circle cx="417.8" cy="434.9" r="3.8"/>
<circle cx="420.0" cy="426.0" r="3.8"/>
<circle cx="420.3" cy="426.5" r="3.8"/>
<circle cx="423.5" cy="422.9" r="3.8"/>
<circle cx="425.5" cy="423.5" r="3.8"/>
<circle cx="427.0" cy="424.2" r="3.8"/>
<circle cx="430.4" cy="423.0" r="3.8"/>
<circle cx="432.0" cy="423.9" r="3.8"/>
<circle cx="434.2" cy="426.6" r="3.8"/>
<circle cx="437.2" cy="425.6" r="3.8"/>
<circle cx="437.2" cy="427.1" r="3.8"/>
<circle cx="442.0" cy="434.9" r="3.8"/>
<circle cx="447.5" cy="443.2" r="3.8"/>
<circle cx="451.2" cy="448.7" r="3.8"/>
<circle cx="455.8" cy="456.1" r="3.8"/>
<circle cx="461.4" cy="457.0" r="3.8"/>
<circle cx="466.9" cy="458.0" r="3.8"/>
<circle cx="468.7" cy="462.6" r="3.8"/>
<circle cx="474.3" cy="458.9" r="3.8"/>
<circle cx="479.8" cy="456.1" r="3.8"/>
<circle cx="485.4" cy="455.2" r="3.8"/>
<circle cx="490.9" cy="453.4" r="3.8"/>
<circle cx="496.4" cy="452.4" r="3.8"/>
<circle cx="503.8" cy="451.5" r="3.8"/>
<circle cx="509.3" cy="450.6" r="3.8"/>
<circle cx="514.9" cy="448.7" r="3.8"/>
<circle cx="518.6" cy="446.0" r="3.8"/>
</g>
<polyline points="76.5,262.0 80.4,282.7 88.2,290.2 96.3,317.8 97.5,342.9 104.2,323.7 110.8,385.8 112.9,356.5 118.8,392.4 128.1,402.7 131.8,396.2 135.5,425.8 137.7,411.6 141.1,419.3 144.8,424.0 147.8,424.6 151.2,431.8 153.1,436.0 158.0,440.0 163.5,447.7 165.3,450.4 168.0,465.2 172.7,456.0 175.4,457.8 178.2,454.1 183.7,453.2 191.1,463.4 194.8,449.5 195.0,464.3 198.5,463.4 200.9,467.2 202.2,467.0 205.3,466.2 205.9,466.1 210.5,460.6 211.7,464.8 213.3,468.0 218.3,468.3 218.8,469.8 223.3,473.2 224.3,475.4 227.9,475.0 229.9,472.6 230.8,487.3 233.7,481.8 235.4,476.3 238.8,478.5 240.9,478.1 244.2,474.2 247.0,472.2 250.4,475.7 254.8,477.5 256.0,478.0 260.7,478.0 261.5,479.0 265.8,479.9 268.0,482.0 270.5,481.6 275.0,483.0 276.3,483.2 281.0,480.5 281.0,482.0 286.0,474.1 287.6,470.8 290.6,475.9 293.0,481.0 295.3,483.1 298.6,484.0 300.9,481.1 303.0,481.0 305.3,477.6 307.8,474.7 311.0,474.9 315.3,473.1 316.8,474.0 321.4,481.7 322.4,483.7 326.3,480.2 330.0,478.0 333.0,477.9 337.2,479.0 338.7,478.0 343.0,477.0 344.0,478.7 349.2,480.9 350.9,479.4 355.5,477.4 357.5,475.4 360.2,473.1 362.0,474.0 366.7,473.5 366.8,473.2 370.0,471.7 373.2,470.4 375.9,469.8 379.7,471.7 381.0,472.5 384.3,471.8 388.1,474.2 390.0,472.8 394.5,467.8 396.6,465.5 400.0,465.0 402.4,463.8 406.0,463.0 407.9,461.2 411.0,461.0 412.8,460.1 415.2,458.7 419.5,455.1 420.0,456.0 424.2,453.6 425.0,454.7 430.0,455.2 431.8,455.6 433.7,458.0 436.2,458.6 437.0,457.0 441.1,456.1 443.0,461.1 445.7,468.1 447.3,471.0 450.3,472.7 452.5,466.2 454.0,459.8 458.3,469.1 462.9,477.7 465.1,481.0 467.6,481.4 472.4,482.9 474.1,483.7 478.7,481.3 479.8,482.0 483.9,480.0 485.4,479.2 489.1,476.8 490.9,477.3 493.9,468.3 495.5,462.6 500.5,471.4 501.0,473.7 506.2,470.7 507.5,469.0 510.4,471.5 511.2,470.9 514.9,469.6 517.6,468.1" fill="none" stroke="#00ff00" stroke-width="1.2" clip-path="url(#c2)"/>
<g fill="#00ff00" clip-path="url(#c2)">
<circle cx="76.5" cy="262.0" r="3.8"/>
<circle cx="80.4" cy="282.7" r="3.8"/>
<circle cx="88.2" cy="290.2" r="3.8"/>
<circle cx="96.3" cy="317.8" r="3.8"/>
<circle cx="97.5" cy="342.9" r="3.8"/>
<circle cx="104.2" cy="323.7" r="3.8"/>
<circle cx="110.8" cy="385.8" r="3.8"/>
<circle cx="112.9" cy="356.5" r="3.8"/>
<circle cx="118.8" cy="392.4" r="3.8"/>
<circle cx="128.1" cy="402.7" r="3.8"/>
<circle cx="131.8" cy="396.2" r="3.8"/>
<circle cx="135.5" cy="425.8" r="3.8"/>
<circle cx="137.7" cy="411.6" r="3.8"/>
<circle cx="141.1" cy="419.3" r="3.8"/>
<circle cx="144.8" cy="424.0" r="3.8"/>
<circle cx="147.8" cy="424.6" r="3.8"/>
<circle cx="151.2" cy="431.8" r="3.8"/>
<circle cx="153.1" cy="436.0" r="3.8"/>
<circle cx="158.0" cy="440.0" r="3.8"/>
<circle cx="163.5" cy="447.7" r="3.8"/>
<circle cx="165.3" cy="450.4" r="3.8"/>
<circle cx="168.0" cy="465.2" r="3.8"/>
<circle cx="172.7" cy="456.0" r="3.8"/>
<circle cx="175.4" cy="457.8" r="3.8"/>
<circle cx="178.2" cy="454.1" r="3.8"/>
<circle cx="183.7" cy="453.2" r="3.8"/>
<circle cx="191.1" cy="463.4" r="3.8"/>
<circle cx="194.8" cy="449.5" r="3.8"/>
<circle cx="195.0" cy="464.3" r="3.8"/>
<circle cx="198.5" cy="463.4" r="3.8"/>
<circle cx="200.9" cy="467.2" r="3.8"/>
<circle cx="202.2" cy="467.0" r="3.8"/>
<circle cx="205.3" cy="466.2" r="3.8"/>
<circle cx="205.9" cy="466.1" r="3.8"/>
<circle cx="210.5" cy="460.6" r="3.8"/>
<circle cx="211.7" cy="464.8" r="3.8"/>
<circle cx="213.3" cy="468.0" r="3.8"/>
<circle cx="218.3" cy="468.3" r="3.8"/>
<circle cx="218.8" cy="469.8" r="3.8"/>
<circle cx="223.3" cy="473.2" r="3.8"/>
<circle cx="224.3" cy="475.4" r="3.8"/>
<circle cx="227.9" cy="475.0" r="3.8"/>
<circle cx="229.9" cy="472.6" r="3.8"/>
<circle cx="230.8" cy="487.3" r="3.8"/>
<circle cx="233.7" cy="481.8" r="3.8"/>
<circle cx="235.4" cy="476.3" r="3.8"/>
<circle cx="238.8" cy="478.5" r="3.8"/>
<circle cx="240.9" cy="478.1" r="3.8"/>
<circle cx="244.2" cy="474.2" r="3.8"/>
<circle cx="247.0" cy="472.2" r="3.8"/>
<circle cx="250.4" cy="475.7" r="3.8"/>
<circle cx="254.8" cy="477.5" r="3.8"/>
<circle cx="256.0" cy="478.0" r="3.8"/>
<circle cx="260.7" cy="478.0" r="3.8"/>
<circle cx="261.5" cy="479.0" r="3.8"/>
<circle cx="265.8" cy="479.9" r="3.8"/>
<circle cx="268.0" cy="482.0" r="3.8"/>
<circle cx="270.5" cy="481.6" r="3.8"/>
<circle cx="275.0" cy="483.0" r="3.8"/>
<circle cx="276.3" cy="483.2" r="3.8"/>
<circle cx="281.0" cy="480.5" r="3.8"/>
<circle cx="281.0" cy="482.0" r="3.8"/>
<circle cx="286.0" cy="474.1" r="3.8"/>
<circle cx="287.6" cy="470.8" r="3.8"/>
<circle cx="290.6" cy="475.9" r="3.8"/>
<circle cx="293.0" cy="481.0" r="3.8"/>
<circle cx="295.3" cy="483.1" r="3.8"/>
<circle cx="298.6" cy="484.0" r="3.8"/>
<circle cx="300.9" cy="481.1" r="3.8"/>
<circle cx="303.0" cy="481.0" r="3.8"/>
<circle cx="305.3" cy="477.6" r="3.8"/>
<circle cx="307.8" cy="474.7" r="3.8"/>
<circle cx="311.0" cy="474.9" r="3.8"/>
<circle cx="315.3" cy="473.1" r="3.8"/>
<circle cx="316.8" cy="474.0" r="3.8"/>
<circle cx="321.4" cy="481.7" r="3.8"/>
<circle cx="322.4" cy="483.7" r="3.8"/>
<circle cx="326.3" cy="480.2" r="3.8"/>
<circle cx="330.0" cy="478.0" r="3.8"/>
<circle cx="333.0" cy="477.9" r="3.8"/>
<circle cx="337.2" cy="479.0" r="3.8"/>
<circle cx="338.7" cy="478.0" r="3.8"/>
<circle cx="343.0" cy="477.0" r="3.8"/>
<circle cx="344.0" cy="478.7" r="3.8"/>
<circle cx="349.2" cy="480.9" r="3.8"/>
<circle cx="350.9" cy="479.4" r="3.8"/>
<circle cx="355.5" cy="477.4" r="3.8"/>
<circle cx="357.5" cy="475.4" r="3.8"/>
<circle cx="360.2" cy="473.1" r="3.8"/>
<circle cx="362.0" cy="474.0" r="3.8"/>
<circle cx="366.7" cy="473.5" r="3.8"/>
<circle cx="366.8" cy="473.2" r="3.8"/>
<circle cx="370.0" cy="471.7" r="3.8"/>
<circle cx="373.2" cy="470.4" r="3.8"/>
<circle cx="375.9" cy="469.8" r="3.8"/>
<circle cx="379.7" cy="471.7" r="3.8"/>
<circle cx="381.0" cy="472.5" r="3.8"/>
<circle cx="384.3" cy="471.8" r="3.8"/>
<circle cx="388.1" cy="474.2" r="3.8"/>
<circle cx="390.0" cy="472.8" r="3.8"/>
<circle cx="394.5" cy="467.8" r="3.8"/>
<circle cx="396.6" cy="465.5" r="3.8"/>
<circle cx="400.0" cy="465.0" r="3.8"/>
<circle cx="402.4" cy="463.8" r="3.8"/>
<circle cx="406.0" cy="463.0" r="3.8"/>
<circle cx="407.9" cy="461.2" r="3.8"/>
<circle cx="411.0" cy="461.0" r="3.8"/>
<circle cx="412.8" cy="460.1" r="3.8"/>
<circle cx="415.2" cy="458.7" r="3.8"/>
<circle cx="419.5" cy="455.1" r="3.8"/>
<circle cx="420.0" cy="456.0" r="3.8"/>
<circle cx="424.2" cy="453.6" r="3.8"/>
<circle cx="425.0" cy="454.7" r="3.8"/>
<circle cx="430.0" cy="455.2" r="3.8"/>
<circle cx="431.8" cy="455.6" r="3.8"/>
<circle cx="433.7" cy="458.0" r="3.8"/>
<circle cx="436.2" cy="458.6" r="3.8"/>
<circle cx="437.0" cy="457.0" r="3.8"/>
<circle cx="441.1" cy="456.1" r="3.8"/>
<circle cx="443.0" cy="461.1" r="3.8"/>
<circle cx="445.7" cy="468.1" r="3.8"/>
<circle cx="447.3" cy="471.0" r="3.8"/>
<circle cx="450.3" cy="472.7" r="3.8"/>
<circle cx="452.5" cy="466.2" r="3.8"/>
<circle cx="454.0" cy="459.8" r="3.8"/>
<circle cx="458.3" cy="469.1" r="3.8"/>
<circle cx="462.9" cy="477.7" r="3.8"/>
<circle cx="465.1" cy="481.0" r="3.8"/>
<circle cx="467.6" cy="481.4" r="3.8"/>
<circle cx="472.4" cy="482.9" r="3.8"/>
<circle cx="474.1" cy="483.7" r="3.8"/>
<circle cx="478.7" cy="481.3" r="3.8"/>
<circle cx="479.8" cy="482.0" r="3.8"/>
<circle cx="483.9" cy="480.0" r="3.8"/>
<circle cx="485.4" cy="479.2" r="3.8"/>
<circle cx="489.1" cy="476.8" r="3.8"/>
<circle cx="490.9" cy="477.3" r="3.8"/>
<circle cx="493.9" cy="468.3" r="3.8"/>
<circle cx="495.5" cy="462.6" r="3.8"/>
<circle cx="500.5" cy="471.4" r="3.8"/>
<circle cx="501.0" cy="473.7" r="3.8"/>
<circle cx="506.2" cy="470.7" r="3.8"/>
<circle cx="507.5" cy="469.0" r="3.8"/>
<circle cx="510.4" cy="471.5" r="3.8"/>
<circle cx="511.2" cy="470.9" r="3.8"/>
<circle cx="514.9" cy="469.6" r="3.8"/>
<circle cx="517.6" cy="468.1" r="3.8"/>
<circle cx="200.0" cy="462.0" r="3.8"/>
<circle cx="206.0" cy="465.0" r="3.8"/>
<circle cx="212.0" cy="464.0" r="3.8"/>
<circle cx="216.0" cy="468.5" r="3.8"/>
<circle cx="220.0" cy="467.0" r="3.8"/>
<circle cx="226.0" cy="470.0" r="3.8"/>
<circle cx="232.0" cy="473.0" r="3.8"/>
<circle cx="238.0" cy="474.0" r="3.8"/>
<circle cx="244.0" cy="476.0" r="3.8"/>
<circle cx="203.0" cy="470.0" r="3.8"/>
<circle cx="209.0" cy="471.0" r="3.8"/>
</g>
<polyline points="60.9,303.8 61.6,311.2 66.8,325.2 67.5,317.0 76.4,347.3 77.1,350.3 83.0,362.9 83.0,366.6 92.6,385.8 98.5,393.9 99.3,403.5 105.9,402.7 106.7,415.3 115.0,431.7 115.9,446.1 121.4,445.2 126.0,451.7 129.7,450.7 132.5,462.7 139.0,456.3 141.7,449.8 145.4,462.7 148.7,470.7 153.3,467.0 157.9,468.9 162.5,469.8 166.2,470.7 169.9,472.6 173.6,474.4 176.4,470.7 181.0,473.5 184.7,476.3 186.5,474.4 192.0,478.1 195.7,474.4 200.0,477.9 200.4,478.1 205.0,476.3 205.5,475.3 208.7,475.4 211.2,478.1 213.3,479.0 216.2,478.6 218.8,480.0 222.4,477.3 223.4,477.2 228.0,479.0 228.2,478.3 232.5,481.4 233.6,481.0 237.0,483.4 239.1,482.7 242.0,482.5 242.8,483.7 246.3,481.6 248.0,481.0 251.7,482.3 254.0,481.0 255.8,480.7 260.0,481.2 260.1,482.6 264.2,478.8 265.0,480.0 268.1,478.9 270.3,478.6 274.1,481.3 278.1,481.8 279.7,482.0 284.5,476.6 285.7,476.4 289.7,477.9 290.0,479.3 294.9,479.9 295.6,478.2 300.0,477.3 301.0,477.2 305.2,478.6 305.7,478.1 309.1,478.6 309.8,477.5 314.3,480.9 318.8,483.7 320.4,478.9 323.9,472.1 326.6,474.2 329.1,477.9 331.2,477.1 335.4,472.6 337.0,472.1 340.9,471.7 340.9,471.6 345.0,470.0 345.6,470.9 349.8,466.8 350.1,467.0 355.8,469.9 357.5,472.6 360.6,469.7 364.9,463.4 366.3,462.2 370.1,462.7 372.3,464.3 376.2,463.4 380.0,463.9 381.8,464.6 386.4,461.5 389.4,461.3 392.5,460.6 396.0,459.0 396.9,459.3 401.5,456.3 403.6,456.2 405.2,460.8 408.7,468.4 411.3,462.3 414.0,455.0 417.4,451.0 421.7,449.1 421.7,449.0 427.5,440.7 427.8,442.3 432.6,442.7 433.7,444.1 437.2,443.2 437.4,443.0 441.1,440.4 443.5,443.5 443.8,445.0 446.6,461.7 449.2,468.3 450.3,470.0 455.0,478.7 455.8,479.2 460.3,477.6 461.0,478.0 464.8,475.7 466.0,475.5 469.7,477.3 470.5,476.8 474.8,482.4 475.2,482.0 478.9,474.6 479.2,472.3 481.7,463.5 483.0,466.0 487.2,473.7 487.6,474.9 492.7,470.0 493.5,470.5 497.3,464.4 497.9,463.5 501.9,466.7 502.9,467.2 507.4,468.0 511.2,469.0 511.8,468.8 517.1,470.4 517.6,470.0" fill="none" stroke="#ff0000" stroke-width="1.2" clip-path="url(#c2)"/>
<g fill="#ff0000" clip-path="url(#c2)">
<circle cx="60.9" cy="303.8" r="3.8"/>
<circle cx="61.6" cy="311.2" r="3.8"/>
<circle cx="66.8" cy="325.2" r="3.8"/>
<circle cx="67.5" cy="317.0" r="3.8"/>
<circle cx="76.4" cy="347.3" r="3.8"/>
<circle cx="77.1" cy="350.3" r="3.8"/>
<circle cx="83.0" cy="362.9" r="3.8"/>
<circle cx="83.0" cy="366.6" r="3.8"/>
<circle cx="92.6" cy="385.8" r="3.8"/>
<circle cx="98.5" cy="393.9" r="3.8"/>
<circle cx="99.3" cy="403.5" r="3.8"/>
<circle cx="105.9" cy="402.7" r="3.8"/>
<circle cx="106.7" cy="415.3" r="3.8"/>
<circle cx="115.0" cy="431.7" r="3.8"/>
<circle cx="115.9" cy="446.1" r="3.8"/>
<circle cx="121.4" cy="445.2" r="3.8"/>
<circle cx="126.0" cy="451.7" r="3.8"/>
<circle cx="129.7" cy="450.7" r="3.8"/>
<circle cx="132.5" cy="462.7" r="3.8"/>
<circle cx="139.0" cy="456.3" r="3.8"/>
<circle cx="141.7" cy="449.8" r="3.8"/>
<circle cx="145.4" cy="462.7" r="3.8"/>
<circle cx="148.7" cy="470.7" r="3.8"/>
<circle cx="153.3" cy="467.0" r="3.8"/>
<circle cx="157.9" cy="468.9" r="3.8"/>
<circle cx="162.5" cy="469.8" r="3.8"/>
<circle cx="166.2" cy="470.7" r="3.8"/>
<circle cx="169.9" cy="472.6" r="3.8"/>
<circle cx="173.6" cy="474.4" r="3.8"/>
<circle cx="176.4" cy="470.7" r="3.8"/>
<circle cx="181.0" cy="473.5" r="3.8"/>
<circle cx="184.7" cy="476.3" r="3.8"/>
<circle cx="186.5" cy="474.4" r="3.8"/>
<circle cx="192.0" cy="478.1" r="3.8"/>
<circle cx="195.7" cy="474.4" r="3.8"/>
<circle cx="200.0" cy="477.9" r="3.8"/>
<circle cx="200.4" cy="478.1" r="3.8"/>
<circle cx="205.0" cy="476.3" r="3.8"/>
<circle cx="205.5" cy="475.3" r="3.8"/>
<circle cx="208.7" cy="475.4" r="3.8"/>
<circle cx="211.2" cy="478.1" r="3.8"/>
<circle cx="213.3" cy="479.0" r="3.8"/>
<circle cx="216.2" cy="478.6" r="3.8"/>
<circle cx="218.8" cy="480.0" r="3.8"/>
<circle cx="222.4" cy="477.3" r="3.8"/>
<circle cx="223.4" cy="477.2" r="3.8"/>
<circle cx="228.0" cy="479.0" r="3.8"/>
<circle cx="228.2" cy="478.3" r="3.8"/>
<circle cx="232.5" cy="481.4" r="3.8"/>
<circle cx="233.6" cy="481.0" r="3.8"/>
<circle cx="237.0" cy="483.4" r="3.8"/>
<circle cx="239.1" cy="482.7" r="3.8"/>
<circle cx="242.0" cy="482.5" r="3.8"/>
<circle cx="242.8" cy="483.7" r="3.8"/>
<circle cx="246.3" cy="481.6" r="3.8"/>
<circle cx="248.0" cy="481.0" r="3.8"/>
<circle cx="251.7" cy="482.3" r="3.8"/>
<circle cx="254.0" cy="481.0" r="3.8"/>
<circle cx="255.8" cy="480.7" r="3.8"/>
<circle cx="260.0" cy="481.2" r="3.8"/>
<circle cx="260.1" cy="482.6" r="3.8"/>
<circle cx="264.2" cy="478.8" r="3.8"/>
<circle cx="265.0" cy="480.0" r="3.8"/>
<circle cx="268.1" cy="478.9" r="3.8"/>
<circle cx="270.3" cy="478.6" r="3.8"/>
<circle cx="274.1" cy="481.3" r="3.8"/>
<circle cx="278.1" cy="481.8" r="3.8"/>
<circle cx="279.7" cy="482.0" r="3.8"/>
<circle cx="284.5" cy="476.6" r="3.8"/>
<circle cx="285.7" cy="476.4" r="3.8"/>
<circle cx="289.7" cy="477.9" r="3.8"/>
<circle cx="290.0" cy="479.3" r="3.8"/>
<circle cx="294.9" cy="479.9" r="3.8"/>
<circle cx="295.6" cy="478.2" r="3.8"/>
<circle cx="300.0" cy="477.3" r="3.8"/>
<circle cx="301.0" cy="477.2" r="3.8"/>
<circle cx="305.2" cy="478.6" r="3.8"/>
<circle cx="305.7" cy="478.1" r="3.8"/>
<circle cx="309.1" cy="478.6" r="3.8"/>
<circle cx="309.8" cy="477.5" r="3.8"/>
<circle cx="314.3" cy="480.9" r="3.8"/>
<circle cx="318.8" cy="483.7" r="3.8"/>
<circle cx="320.4" cy="478.9" r="3.8"/>
<circle cx="323.9" cy="472.1" r="3.8"/>
<circle cx="326.6" cy="474.2" r="3.8"/>
<circle cx="329.1" cy="477.9" r="3.8"/>
<circle cx="331.2" cy="477.1" r="3.8"/>
<circle cx="335.4" cy="472.6" r="3.8"/>
<circle cx="337.0" cy="472.1" r="3.8"/>
<circle cx="340.9" cy="471.7" r="3.8"/>
<circle cx="340.9" cy="471.6" r="3.8"/>
<circle cx="345.0" cy="470.0" r="3.8"/>
<circle cx="345.6" cy="470.9" r="3.8"/>
<circle cx="349.8" cy="466.8" r="3.8"/>
<circle cx="350.1" cy="467.0" r="3.8"/>
<circle cx="355.8" cy="469.9" r="3.8"/>
<circle cx="357.5" cy="472.6" r="3.8"/>
<circle cx="360.6" cy="469.7" r="3.8"/>
<circle cx="364.9" cy="463.4" r="3.8"/>
<circle cx="366.3" cy="462.2" r="3.8"/>
<circle cx="370.1" cy="462.7" r="3.8"/>
<circle cx="372.3" cy="464.3" r="3.8"/>
<circle cx="376.2" cy="463.4" r="3.8"/>
<circle cx="380.0" cy="463.9" r="3.8"/>
<circle cx="381.8" cy="464.6" r="3.8"/>
<circle cx="386.4" cy="461.5" r="3.8"/>
<circle cx="389.4" cy="461.3" r="3.8"/>
<circle cx="392.5" cy="460.6" r="3.8"/>
<circle cx="396.0" cy="459.0" r="3.8"/>
<circle cx="396.9" cy="459.3" r="3.8"/>
<circle cx="401.5" cy="456.3" r="3.8"/>
<circle cx="403.6" cy="456.2" r="3.8"/>
<circle cx="405.2" cy="460.8" r="3.8"/>
<circle cx="408.7" cy="468.4" r="3.8"/>
<circle cx="411.3" cy="462.3" r="3.8"/>
<circle cx="414.0" cy="455.0" r="3.8"/>
<circle cx="417.4" cy="451.0" r="3.8"/>
<circle cx="421.7" cy="449.1" r="3.8"/>
<circle cx="421.7" cy="449.0" r="3.8"/>
<circle cx="427.5" cy="440.7" r="3.8"/>
<circle cx="427.8" cy="442.3" r="3.8"/>
<circle cx="432.6" cy="442.7" r="3.8"/>
<circle cx="433.7" cy="444.1" r="3.8"/>
<circle cx="437.2" cy="443.2" r="3.8"/>
<circle cx="437.4" cy="443.0" r="3.8"/>
<circle cx="441.1" cy="440.4" r="3.8"/>
<circle cx="443.5" cy="443.5" r="3.8"/>
<circle cx="443.8" cy="445.0" r="3.8"/>
<circle cx="446.6" cy="461.7" r="3.8"/>
<circle cx="449.2" cy="468.3" r="3.8"/>
<circle cx="450.3" cy="470.0" r="3.8"/>
<circle cx="455.0" cy="478.7" r="3.8"/>
<circle cx="455.8" cy="479.2" r="3.8"/>
<circle cx="460.3" cy="477.6" r="3.8"/>
<circle cx="461.0" cy="478.0" r="3.8"/>
<circle cx="464.8" cy="475.7" r="3.8"/>
<circle cx="466.0" cy="475.5" r="3.8"/>
<circle cx="469.7" cy="477.3" r="3.8"/>
<circle cx="470.5" cy="476.8" r="3.8"/>
<circle cx="474.8" cy="482.4" r="3.8"/>
<circle cx="475.2" cy="482.0" r="3.8"/>
<circle cx="478.9" cy="474.6" r="3.8"/>
<circle cx="479.2" cy="472.3" r="3.8"/>
<circle cx="481.7" cy="463.5" r="3.8"/>
<circle cx="483.0" cy="466.0" r="3.8"/>
<circle cx="487.2" cy="473.7" r="3.8"/>
<circle cx="487.6" cy="474.9" r="3.8"/>
<circle cx="492.7" cy="470.0" r="3.8"/>
<circle cx="493.5" cy="470.5" r="3.8"/>
<circle cx="497.3" cy="464.4" r="3.8"/>
<circle cx="497.9" cy="463.5" r="3.8"/>
<circle cx="501.9" cy="466.7" r="3.8"/>
<circle cx="502.9" cy="467.2" r="3.8"/>
<circle cx="507.4" cy="468.0" r="3.8"/>
<circle cx="511.2" cy="469.0" r="3.8"/>
<circle cx="511.8" cy="468.8" r="3.8"/>
<circle cx="517.1" cy="470.4" r="3.8"/>
<circle cx="517.6" cy="470.0" r="3.8"/>
<circle cx="200.0" cy="481.6" r="3.8"/>
<circle cx="206.0" cy="478.8" r="3.8"/>
<circle cx="212.0" cy="481.1" r="3.8"/>
<circle cx="218.0" cy="483.3" r="3.8"/>
<circle cx="224.0" cy="480.4" r="3.8"/>
<circle cx="230.0" cy="482.9" r="3.8"/>
<circle cx="236.0" cy="485.8" r="3.8"/>
<circle cx="242.0" cy="486.2" r="3.8"/>
<circle cx="248.0" cy="483.8" r="3.8"/>
<circle cx="254.0" cy="483.9" r="3.8"/>
<circle cx="260.0" cy="484.1" r="3.8"/>
<circle cx="266.0" cy="482.4" r="3.8"/>
<circle cx="272.0" cy="483.6" r="3.8"/>
<circle cx="278.0" cy="485.2" r="3.8"/>
<circle cx="284.0" cy="480.2" r="3.8"/>
<circle cx="290.0" cy="482.4" r="3.8"/>
<circle cx="296.0" cy="482.1" r="3.8"/>
<circle cx="302.0" cy="480.8" r="3.8"/>
<circle cx="308.0" cy="481.3" r="3.8"/>
</g>
<path d="M438.8,193.0 V459.5 M475.3,193.0 V459.5" fill="none" stroke="#000" stroke-width="2.4" stroke-linecap="round" stroke-dasharray="11 14.6"/>
<rect x="322.2" y="24.7" width="196.3" height="44" fill="#fff" stroke="#000" stroke-width="2"/>
<text x="24.40" y="51.30" font-size="17.50" textLength="26.30" lengthAdjust="spacingAndGlyphs">1.6</text>
<text x="24.40" y="121.40" font-size="17.50" textLength="25.30" lengthAdjust="spacingAndGlyphs">1.4</text>
<text x="24.40" y="191.40" font-size="17.50" textLength="26.10" lengthAdjust="spacingAndGlyphs">1.2</text>
<text x="24.40" y="262.00" font-size="17.50" textLength="26.30" lengthAdjust="spacingAndGlyphs">1.0</text>
<text x="13.80" y="324.60" font-size="17.50" textLength="36.90" lengthAdjust="spacingAndGlyphs">0.04</text>
<text x="14.20" y="416.60" font-size="17.50" textLength="35.70" lengthAdjust="spacingAndGlyphs">0.02</text>
<text x="14.20" y="507.40" font-size="17.50" textLength="36.20" lengthAdjust="spacingAndGlyphs">0.00</text>
<text x="66.50" y="528.10" font-size="17.50" textLength="30.60" lengthAdjust="spacingAndGlyphs">250</text>
<text x="194.50" y="527.70" font-size="17.50" textLength="31.50" lengthAdjust="spacingAndGlyphs">300</text>
<text x="323.40" y="527.70" font-size="17.50" textLength="30.30" lengthAdjust="spacingAndGlyphs">350</text>
<text x="451.10" y="527.70" font-size="17.50" textLength="30.40" lengthAdjust="spacingAndGlyphs">400</text>
<text x="99.40" y="60.30" font-size="17.20" textLength="89.50" lengthAdjust="spacingAndGlyphs">the sample</text>
<text x="98.10" y="87.60" font-size="17.20" textLength="54.70" lengthAdjust="spacingAndGlyphs">breaks</text>
<text x="170.20" y="196.50" font-size="19.50" textLength="64.70" lengthAdjust="spacingAndGlyphs">594 Hz</text>
<text x="170.80" y="227.20" font-size="19.50" textLength="76.30" lengthAdjust="spacingAndGlyphs">3317 Hz</text>
<text x="170.80" y="258.00" font-size="19.50" textLength="76.30" lengthAdjust="spacingAndGlyphs">8303 Hz</text>
<text x="326.00" y="53.05" font-size="23.79" textLength="135.00" lengthAdjust="spacingAndGlyphs">TMCM-MnCl</text>
<text x="461.40" y="63.45" font-size="19.91" textLength="10.30" lengthAdjust="spacingAndGlyphs">3</text>
<text x="479.00" y="52.55" font-size="23.06" textLength="26.00" lengthAdjust="spacingAndGlyphs">B3</text>
<text x="128.20" y="343.20" font-size="24.80" textLength="28.70" lengthAdjust="spacingAndGlyphs">R2</text>
<text x="302.60" y="438.20" font-size="24.80" textLength="28.90" lengthAdjust="spacingAndGlyphs">R3</text>
<text x="488.10" y="415.20" font-size="24.80" textLength="27.90" lengthAdjust="spacingAndGlyphs">R4</text>
<text x="445.70" y="313.00" font-size="24.58" textLength="14.20" lengthAdjust="spacingAndGlyphs" font-style="italic">T</text>
<text x="460.20" y="325.40" font-size="19.39" textLength="11.30" lengthAdjust="spacingAndGlyphs">C</text>
<text x="261.90" y="539.90" font-size="16.80" textLength="9.60" lengthAdjust="spacingAndGlyphs" font-style="italic">T</text>
<text x="276.10" y="540.00" font-size="16.80" textLength="22.60" lengthAdjust="spacingAndGlyphs">(K)</text>
<text transform="translate(20.10,171.00) rotate(-90)" font-size="17.18" font-style="italic" textLength="8.60" lengthAdjust="spacingAndGlyphs">E</text>
<text transform="translate(20.10,153.90) rotate(-90)" font-size="17.18" font-style="italic" textLength="9.00" lengthAdjust="spacingAndGlyphs">E</text>
<text transform="translate(29.20,144.00) rotate(-90)" font-size="9.41" textLength="4.80" lengthAdjust="spacingAndGlyphs">0</text>
<text transform="translate(25.30,368.80) rotate(-90)" font-size="15.96" font-style="italic" textLength="12.80" lengthAdjust="spacingAndGlyphs">Q</text>
<text transform="translate(14.40,356.00) rotate(-90)" font-size="10.56" textLength="9.20" lengthAdjust="spacingAndGlyphs">-1</text>
<path d="M22.2,163.3 L5.9,153.0" stroke="#000" stroke-width="1.5" fill="none"/>
<path d="M97,67.6 C80,72 68,90 64,110" fill="none" stroke="#000" stroke-width="2.4"/>
<path d="M58.6,106.2 L69.0,106.6 L63.5,125.8 Z" fill="#000"/>
<path d="M108.9,188.0 H166.1" stroke="#0000ff" stroke-width="1.3"/>
<circle cx="137.2" cy="188.0" r="3.7" fill="#0000ff"/>
<path d="M108.9,219.3 H166.1" stroke="#ff0000" stroke-width="1.3"/>
<circle cx="137.2" cy="219.3" r="3.7" fill="#ff0000"/>
<path d="M108.9,250.6 H166.1" stroke="#00ff00" stroke-width="1.3"/>
<circle cx="137.2" cy="250.6" r="3.7" fill="#00ff00"/>
<path d="M410.2,106.6 C426,115 442,129 453,143" fill="none" stroke="#000" stroke-width="3.1"/>
<path d="M448.6,145.6 L457.2,139.4 L464.0,158.8 Z" fill="#000" stroke="#000" stroke-width="0.6" stroke-linejoin="round"/>
<path d="M420.2,209.7 C410,198 398,189 383,182" fill="none" stroke="#000" stroke-width="3"/>
<path d="M386.6,177.4 L380.9,186.6 L366.9,172.3 Z" fill="#000" stroke="#000" stroke-width="0.6" stroke-linejoin="round"/>
</svg></body></html>
